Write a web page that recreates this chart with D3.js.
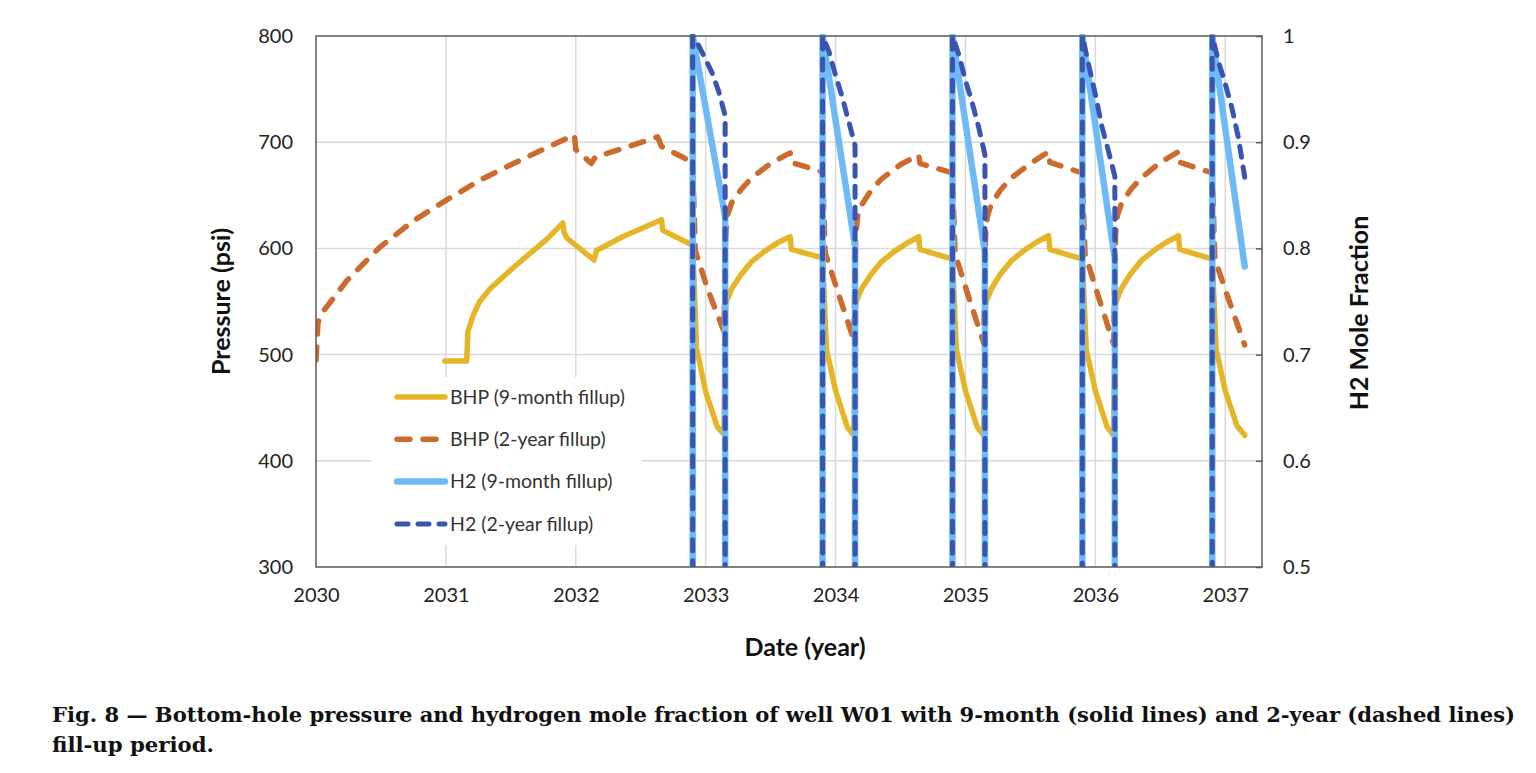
<!DOCTYPE html>
<html>
<head>
<meta charset="utf-8">
<script src="https://cdn.jsdelivr.net/npm/d3@7"></script>
<style>
  body { margin: 0; background: #fff; }
  text { font-family: Lato, "Open Sans", sans-serif; }
</style>
</head>
<body>
<svg width="1536" height="773"></svg>
<script>
// ---- data ----
var yearTicks = [2030, 2031, 2032, 2033, 2034, 2035, 2036, 2037];
var pressureTicks = [300, 400, 500, 600, 700, 800];
var fractionTicks = [0.5, 0.6, 0.7, 0.8, 0.9, 1];

// BHP, 9-month fillup (psi)
var bhp9 = [
  [2030.99,494],[2031.16,494],[2031.17,522],[2031.21,537],[2031.26,550],[2031.34,562],[2031.52,582],[2031.78,609],[2031.90,624],
  [2031.91,615],[2031.93,610],[2032.14,589],[2032.16,598],[2032.36,611],[2032.66,627],[2032.67,617],[2032.90,603],
  [2032.93,506],[2033.00,465],[2033.09,432],[2033.14,425],[2033.155,545],[2033.16,550],[2033.20,562],[2033.27,575],[2033.35,587],[2033.45,597],[2033.55,605],[2033.65,611],[2033.66,599],[2033.90,591],
  [2033.93,505],[2034.00,466],[2034.09,432],[2034.14,424],[2034.155,545],[2034.16,550],[2034.20,562],[2034.27,575],[2034.35,587],[2034.45,597],[2034.55,605],[2034.64,611],[2034.65,599],[2034.90,590],
  [2034.93,505],[2035.00,466],[2035.09,432],[2035.14,424],[2035.155,545],[2035.16,550],[2035.20,562],[2035.27,576],[2035.35,588],[2035.45,598],[2035.55,606],[2035.64,612],[2035.65,599],[2035.90,590],
  [2035.93,505],[2036.00,466],[2036.09,432],[2036.14,424],[2036.155,545],[2036.16,550],[2036.20,562],[2036.27,576],[2036.35,588],[2036.45,598],[2036.55,606],[2036.64,612],[2036.65,599],[2036.90,590],
  [2036.93,505],[2037.00,466],[2037.09,433],[2037.15,424]
];

// BHP, 2-year fillup (psi)
var bhp2 = [
  [2030.00,495],[2030.015,530],[2030.05,540],[2030.12,551],[2030.24,570],[2030.49,601],[2030.75,626],[2031.01,646],[2031.26,664],[2031.52,680],[2031.78,695],[2031.99,707],
  [2032.00,693],[2032.12,680],[2032.15,686],[2032.36,694],[2032.63,705],[2032.66,696],[2032.82,686],[2032.90,681],
  [2032.92,598],[2033.02,560],[2033.14,522],[2033.155,612],[2033.17,632],[2033.20,643],[2033.27,655],[2033.35,666],[2033.50,680],[2033.65,690],[2033.66,681],[2033.90,672],
  [2033.92,596],[2034.02,558],[2034.14,514],[2034.155,612],[2034.17,630],[2034.20,641],[2034.27,654],[2034.35,665],[2034.50,679],[2034.64,688],[2034.65,680],[2034.90,671],
  [2034.92,595],[2035.02,556],[2035.14,511],[2035.155,612],[2035.17,631],[2035.20,642],[2035.27,655],[2035.35,666],[2035.50,680],[2035.64,691],[2035.65,681],[2035.90,671],
  [2035.92,595],[2036.02,556],[2036.14,510],[2036.155,612],[2036.17,631],[2036.20,642],[2036.27,655],[2036.35,666],[2036.50,681],[2036.64,691],[2036.65,681],[2036.90,671],
  [2036.92,590],[2037.02,554],[2037.15,509]
];

// H2 mole fraction, 9-month fillup (0 when not producing)
var h2m9 = [
  [2030.00,0],[2032.90,0],[2032.90,1.0],[2033.15,0.830],[2033.15,0],
  [2033.90,0],[2033.90,1.0],[2034.15,0.802],[2034.15,0],
  [2034.90,0],[2034.90,1.0],[2035.15,0.796],[2035.15,0],
  [2035.90,0],[2035.90,1.0],[2036.15,0.790],[2036.15,0],
  [2036.90,0],[2036.90,1.0],[2037.15,0.783]
];

// H2 mole fraction, 2-year fillup
var h2y2 = [
  [2030.00,0],[2032.90,0],[2032.90,1.0],[2032.95,0.990],[2033.00,0.978],[2033.05,0.965],[2033.10,0.948],[2033.15,0.925],[2033.15,0],
  [2033.90,0],[2033.90,1.0],[2033.95,0.985],[2034.00,0.963],[2034.05,0.943],[2034.10,0.920],[2034.15,0.897],[2034.15,0],
  [2034.90,0],[2034.90,1.0],[2034.95,0.982],[2035.00,0.958],[2035.05,0.938],[2035.10,0.915],[2035.15,0.888],[2035.15,0],
  [2035.90,0],[2035.90,1.0],[2035.95,0.972],[2036.00,0.945],[2036.05,0.915],[2036.10,0.892],[2036.15,0.868],[2036.15,0],
  [2036.90,0],[2036.90,1.0],[2036.95,0.975],[2037.00,0.955],[2037.05,0.933],[2037.10,0.905],[2037.15,0.867]
];

var seriesNames = ["BHP (9-month fillup)", "BHP (2-year fillup)", "H2 (9-month fillup)", "H2 (2-year fillup)"];

// ---- chart ----
var svg = d3.select('svg');
var pLeft = 316, pRight = 1262, pTop = 36, pBottom = 567;

var x = d3.scaleLinear().domain([2030, 2037.283]).range([pLeft, pRight]);
var yP = d3.scaleLinear().domain([300, 800]).range([pBottom, pTop]);
var yH = d3.scaleLinear().domain([0.5, 1]).range([pBottom, pTop]);

var series = [
  { name: seriesNames[0], data: bhp9, y: yP, color: '#E6B527', width: 5.5, dash: null },
  { name: seriesNames[1], data: bhp2, y: yP, color: '#CC6B2D', width: 5.5, dash: '13,13' },
  { name: seriesNames[2], data: h2m9, y: yH, color: '#6DBAF6', width: 6.5, dash: null },
  { name: seriesNames[3], data: h2y2, y: yH, color: '#3A54B2', width: 5, dash: '11,10' }
];

svg.append('clipPath').attr('id', 'plotclip')
  .append('rect').attr('x', pLeft).attr('y', pTop - 2).attr('width', pRight - pLeft).attr('height', pBottom - pTop + 2);

// gridlines
svg.append('g').selectAll('line')
  .data(pressureTicks.slice(1, -1))
  .join('line')
  .attr('x1', pLeft).attr('x2', pRight)
  .attr('y1', d => yP(d)).attr('y2', d => yP(d))
  .attr('stroke', '#d9d9d9').attr('stroke-width', 1.5);

svg.append('g').selectAll('line')
  .data(yearTicks.slice(1))
  .join('line')
  .attr('x1', d => x(d)).attr('x2', d => x(d))
  .attr('y1', pTop).attr('y2', pBottom)
  .attr('stroke', '#d9d9d9').attr('stroke-width', 1.5);

// axes (labels only, border drawn separately)
var xAxis = svg.append('g').attr('transform', 'translate(0,' + pBottom + ')')
  .call(d3.axisBottom(x).tickValues(yearTicks).tickFormat(d3.format('d')).tickSize(0).tickPadding(21));
var lAxis = svg.append('g').attr('transform', 'translate(' + pLeft + ',0)')
  .call(d3.axisLeft(yP).tickValues(pressureTicks).tickSize(0).tickPadding(23));
var rAxis = svg.append('g').attr('transform', 'translate(' + pRight + ',0)')
  .call(d3.axisRight(yH).tickValues(fractionTicks).tickFormat(d => d === 1 ? '1' : d3.format('.1f')(d)).tickSize(-6).tickPadding(21));

[xAxis, lAxis, rAxis].forEach(function (a) {
  a.select('.domain').remove();
  a.selectAll('text').attr('font-family', 'Lato, sans-serif').attr('font-size', 20).attr('fill', '#222');
  a.selectAll('line').attr('stroke', '#595959').attr('stroke-width', 1.5);
});

// series lines
var plot = svg.append('g').attr('clip-path', 'url(#plotclip)');
series.forEach(function (s) {
  var line = d3.line().x(d => x(d[0])).y(d => s.y(d[1]));
  plot.append('path')
    .datum(s.data)
    .attr('d', line)
    .attr('fill', 'none')
    .attr('stroke', s.color)
    .attr('stroke-width', s.width)
    .attr('stroke-linejoin', 'round')
    .attr('stroke-linecap', 'round')
    .attr('stroke-dasharray', s.dash);
});

// plot border
svg.append('rect')
  .attr('x', pLeft).attr('y', pTop).attr('width', pRight - pLeft).attr('height', pBottom - pTop)
  .attr('fill', 'none').attr('stroke', '#595959').attr('stroke-width', 1.5);

// legend
var legend = svg.append('g');
legend.append('rect').attr('x', 372).attr('y', 377).attr('width', 269).attr('height', 168).attr('fill', '#fff');
var rows = legend.selectAll('g').data(series).join('g')
  .attr('transform', (d, i) => 'translate(0,' + (397 + i * 42.3) + ')');
rows.append('line')
  .attr('x1', 397).attr('x2', 445).attr('y1', 0).attr('y2', 0)
  .attr('stroke', d => d.color).attr('stroke-width', d => d.width)
  .attr('stroke-linecap', 'round').attr('stroke-dasharray', d => d.dash);
rows.append('text')
  .attr('x', 450).attr('y', 0).attr('dy', '0.35em')
  .attr('font-size', 19.5).attr('fill', '#333')
  .text(d => d.name);

// axis titles
svg.append('text')
  .attr('transform', 'translate(230,' + ((pTop + pBottom) / 2) + ') rotate(-90)')
  .attr('text-anchor', 'middle').attr('font-size', 25).attr('font-weight', 'bold').attr('fill', '#111')
  .text('Pressure (psi)');
svg.append('text')
  .attr('transform', 'translate(1368,313) rotate(-90)')
  .attr('text-anchor', 'middle').attr('font-size', 25).attr('font-weight', 'bold').attr('fill', '#111')
  .text('H2 Mole Fraction');
svg.append('text')
  .attr('x', 805).attr('y', 656)
  .attr('text-anchor', 'middle').attr('font-size', 25).attr('font-weight', 'bold').attr('fill', '#111')
  .text('Date (year)');

// caption
var cap = svg.append('g').attr('font-weight', 'bold').attr('font-size', 20).attr('fill', '#111');
cap.append('text').attr('x', 52).attr('y', 722)
  .attr('textLength', 1463).attr('lengthAdjust', 'spacingAndGlyphs')
  .style('font-family', '"DejaVu Serif Condensed", "DejaVu Serif", serif')
  .text('Fig. 8 \u2014 Bottom-hole pressure and hydrogen mole fraction of well W01 with 9-month (solid lines) and 2-year (dashed lines)');
cap.append('text').attr('x', 52).attr('y', 752)
  .attr('textLength', 162).attr('lengthAdjust', 'spacingAndGlyphs')
  .style('font-family', '"DejaVu Serif Condensed", "DejaVu Serif", serif')
  .text('fill-up period.');
</script>
</body>
</html>
